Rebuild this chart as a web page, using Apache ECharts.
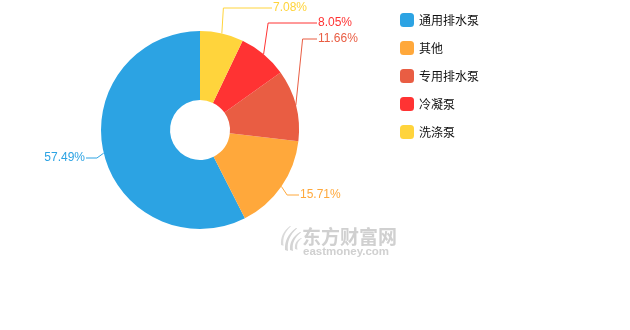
<!DOCTYPE html>
<html><head><meta charset="utf-8">
<script src="https://cdn.jsdelivr.net/npm/echarts@6/dist/echarts.min.js"></script>
<style>html,body{margin:0;padding:0;background:#fff}#c{width:630px;height:330px}</style>
</head><body><div id="c"></div>
<script>
const categories = ['通用排水泵', '其他', '专用排水泵', '冷凝泵', '洗涤泵'];
const values = [57.49, 15.71, 11.66, 8.05, 7.08];
const colors = ['#2ca3e3', '#ffa83b', '#e95d43', '#ff3333', '#ffd43c'];

// label text anchor spots (layout, not data)
const labelSpots = {
  0: {x: 85, y: 158, align: 'right'},
  1: {x: 300, y: 195, align: 'left'},
  2: {x: 318, y: 39, align: 'left'},
  3: {x: 318, y: 23, align: 'left'},
  4: {x: 273, y: 8, align: 'left'}
};
const CX = 200, CY = 130;

function swoosh(x0, y0, x1, y1, w, fill) {
  // curved stripe from bottom (x0,y0) to top (x1,y1), bowing left
  const pts = [];
  const n = 8;
  const mx = x0 - 1, my = (y0 + y1) / 2 - 2;
  const q = (a, b, c, t) => (1 - t) * (1 - t) * a + 2 * (1 - t) * t * b + t * t * c;
  for (let i = 0; i <= n; i++) { const t = i / n; pts.push([q(x0, mx, x1, t), q(y0, my, y1, t)]); }
  for (let i = n; i >= 0; i--) { const t = i / n; const ww = w * (1 - t * 0.6); pts.push([q(x0, mx, x1, t) + ww, q(y0, my, y1, t) + ww * 0.3]); }
  return {type: 'polygon', shape: {points: pts}, style: {fill}};
}

const chart = echarts.init(document.getElementById('c'), null, {renderer: 'canvas'});
const data = categories.map((name, i) => ({name, value: values[i], itemStyle: {color: colors[i]}, label: {color: colors[i]}}));
chart.setOption({
  animation: false,
  textStyle: {fontFamily: 'Arial, "Liberation Sans", "Noto Sans CJK SC", sans-serif'},
  legend: {
    orient: 'vertical', left: 395, top: 8,
    itemWidth: 14, itemHeight: 14, itemGap: 14,
    icon: 'roundRect',
    textStyle: {fontSize: 12, color: '#111', fontFamily: '"Noto Sans CJK SC", sans-serif'},
    data: categories
  },
  graphic: [
    swoosh(281, 245, 290, 226, 2.5, '#dadada'),
    swoosh(285, 250, 296, 228, 3, '#d4d4d4'),
    swoosh(290, 250, 300, 232, 3, '#d4d4d4'),
    swoosh(295, 249, 301, 238, 2.5, '#d8d8d8'),
    {type: 'text', left: 302, top: 227, style: {text: '东方财富网', fontSize: 19, fontWeight: 'bold', fill: '#d0d0d0', fontFamily: '"Noto Sans CJK SC", serif'}},
    {type: 'text', left: 303, top: 246, style: {text: 'eastmoney.com', fontSize: 11.5, fontWeight: 'bold', fill: '#d0d0d0', fontFamily: 'Arial, sans-serif'}}
  ],
  series: [{
    type: 'pie',
    center: [CX, CY],
    radius: [30, 99],
    startAngle: 90,
    clockwise: false,
    avoidLabelOverlap: false,
    label: {show: true, formatter: p => p.value.toFixed(2) + '%', fontSize: 12, distanceToLabelLine: 1},
    labelLine: {length: 7, length2: 10, lineStyle: {width: 1}},
    labelLayout: function (params) {
      const spot = labelSpots[params.dataIndex];
      if (!spot || !params.labelLinePoints) return {};
      const p0 = params.labelLinePoints[0];
      const dx = p0[0] - CX, dy = p0[1] - CY;
      const d = Math.sqrt(dx * dx + dy * dy) || 1;
      const vx = p0[0] + dx / d * 7;
      const endX = spot.align === 'left' ? spot.x - 1 : spot.x + 1;
      return {
        x: spot.x, y: spot.y, align: spot.align, verticalAlign: 'middle',
        labelLinePoints: [p0, [vx, spot.y], [endX, spot.y]]
      };
    },
    data
  }]
});
</script></body></html>
